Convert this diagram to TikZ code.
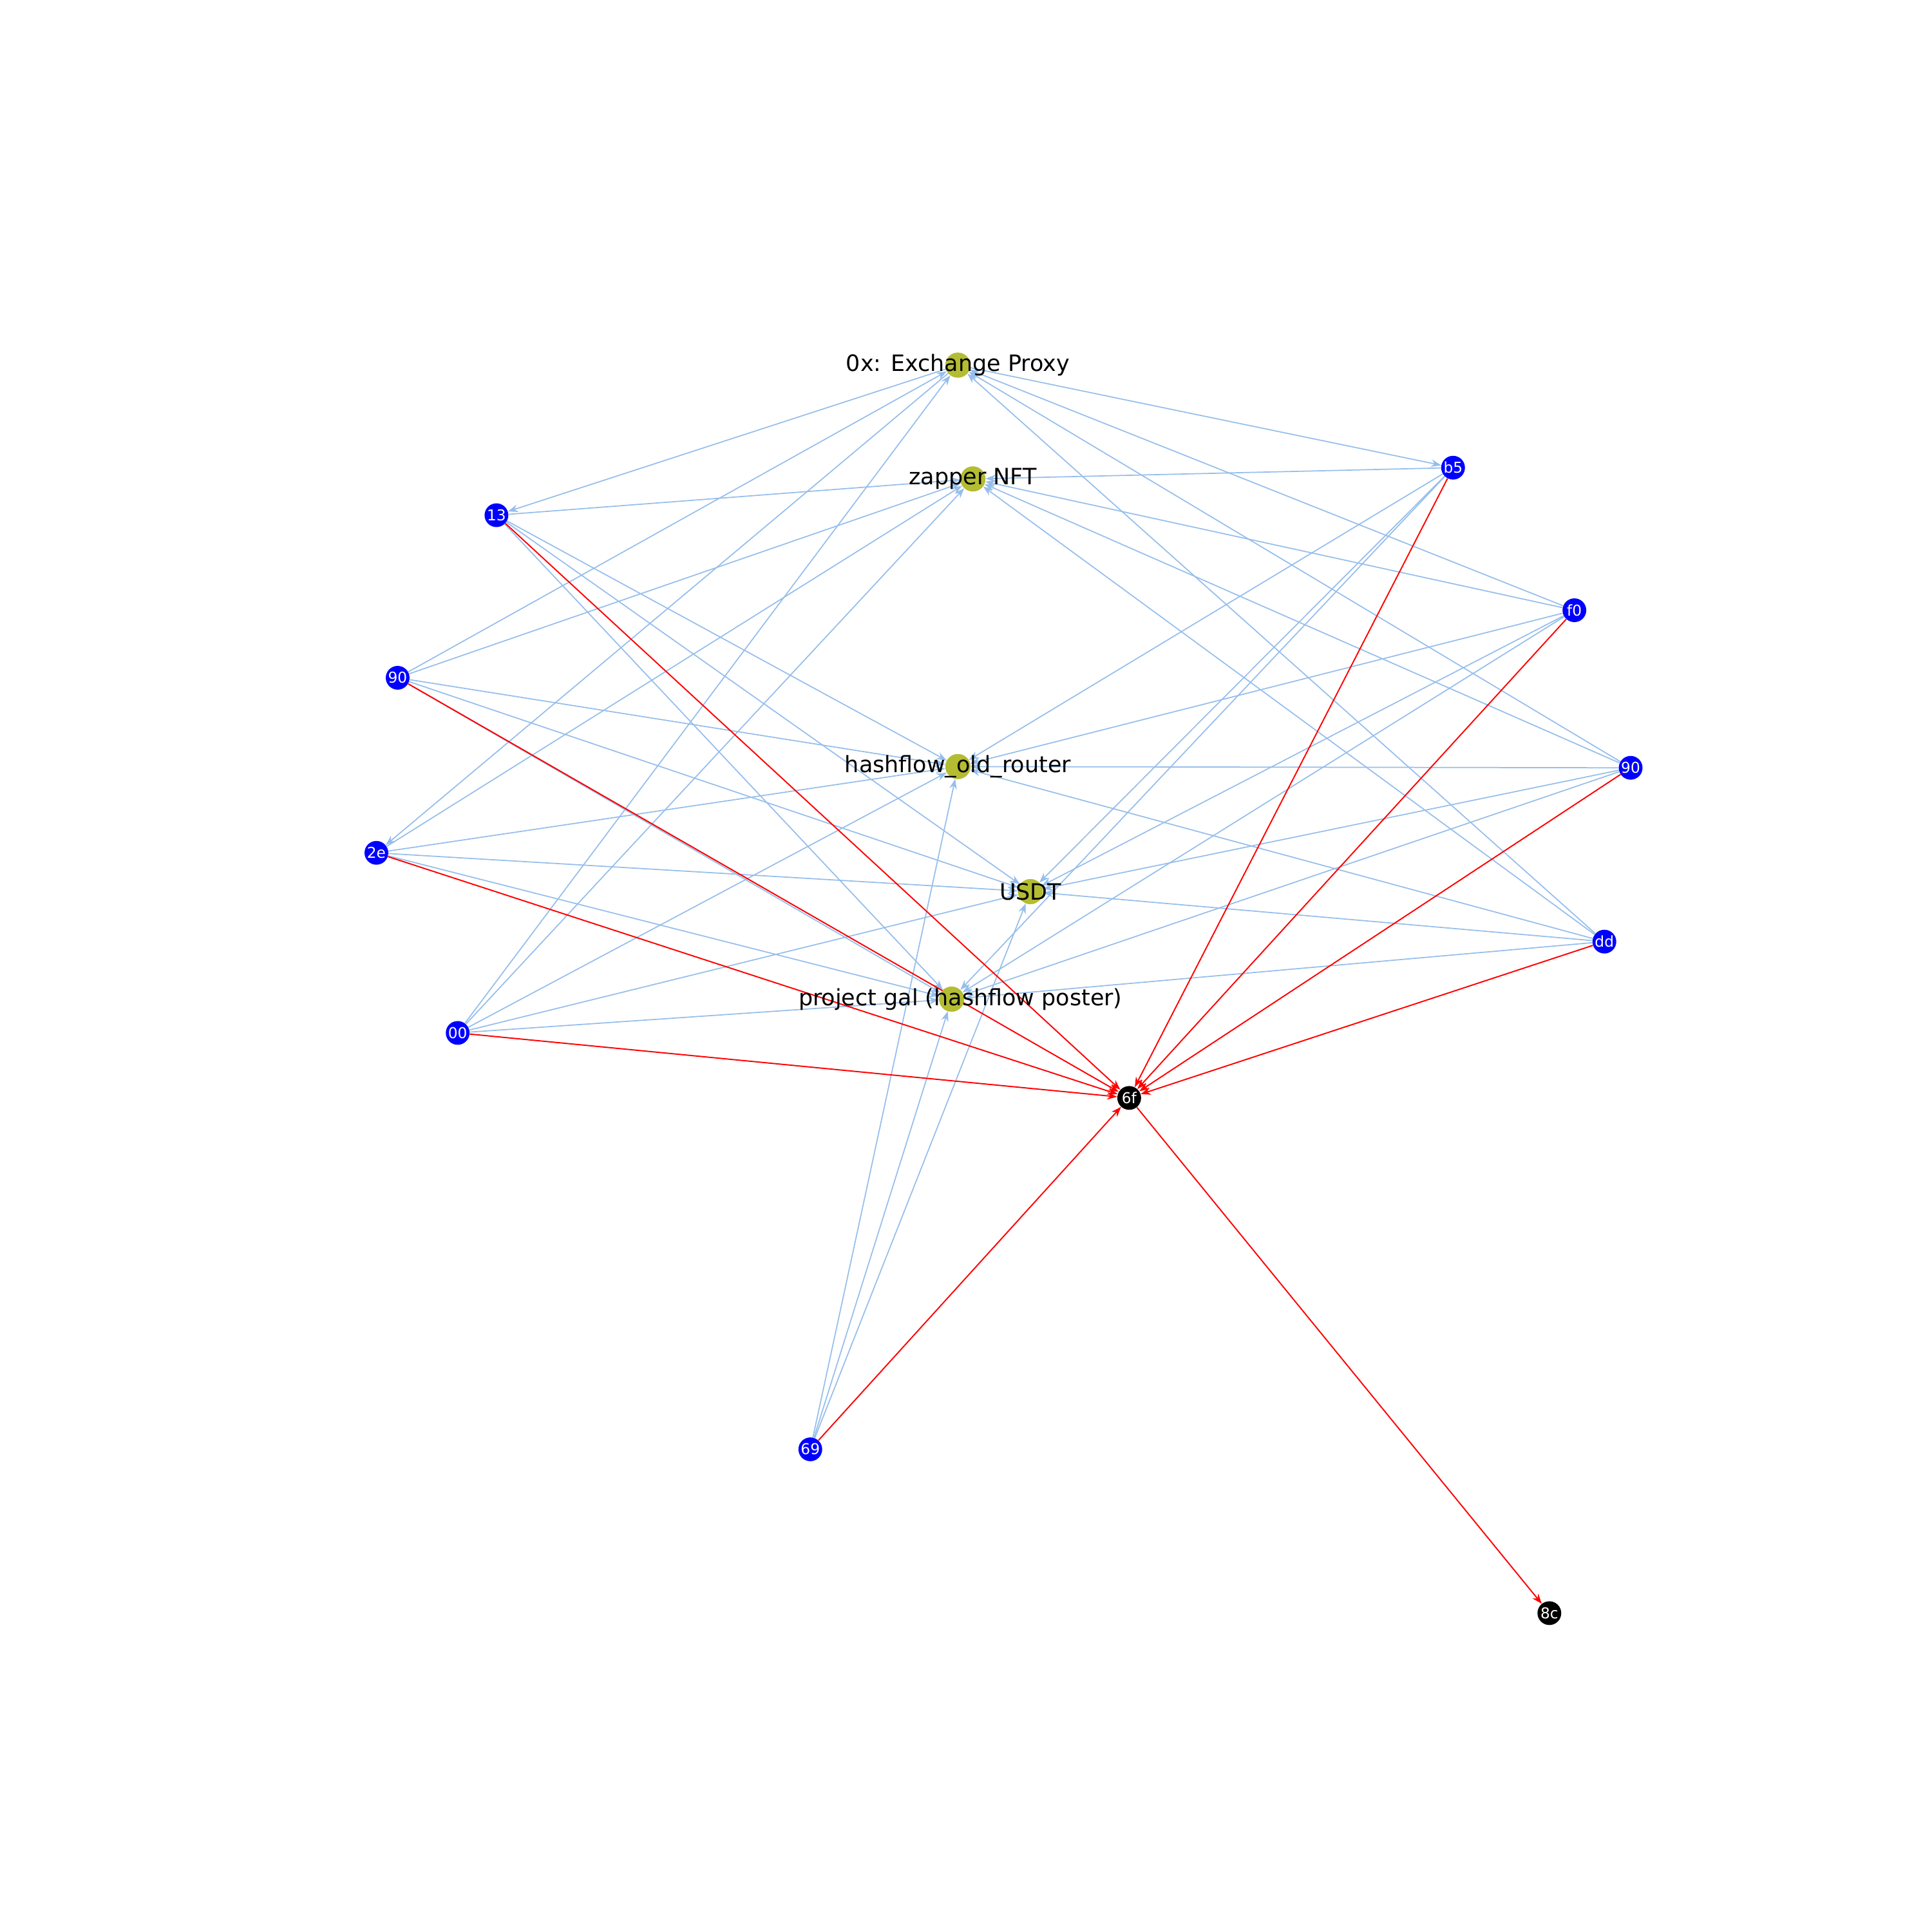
\documentclass[tikz,border=0pt]{standalone}
\usepackage{fontspec}
\setmainfont{DejaVu Sans}
\usetikzlibrary{arrows.meta}
\definecolor{oliv}{RGB}{180,188,50}
\definecolor{lblue}{RGB}{150,190,235}
\begin{document}
\begin{tikzpicture}[x=1pt,y=-1pt,
 bl/.style={circle,fill=blue,inner sep=0pt,minimum size=19pt,text=white,font=\fontsize{12}{12}\selectfont},
 bk/.style={circle,fill=black,inner sep=0pt,minimum size=19pt,text=white,font=\fontsize{12}{12}\selectfont},
 ol/.style={circle,fill=oliv,inner sep=0pt,minimum size=20pt},
 lab/.style={font=\fontsize{18}{18}\selectfont},
 be/.style={draw=lblue,line width=0.9pt,-{Stealth[length=8pt,width=6pt]}},
 re/.style={draw=red,line width=1pt,-{Stealth[length=8pt,width=6pt]}}]
\useasboundingbox (0,0) rectangle (1545,1545);
\node[ol] (ox) at (766,292) {};
\node[ol] (za) at (778,383) {};
\node[ol] (ha) at (766,613) {};
\node[ol] (us) at (824,713) {};
\node[ol] (pg) at (761,799) {};
\node[bl] (n13) at (397,412) {13};
\node[bl] (n90l) at (318,542) {90};
\node[bl] (n2e) at (301,682) {2e};
\node[bl] (n00) at (366,826) {00};
\node[bl] (n69) at (648,1159) {69};
\node[bl] (nb5) at (1162,374) {b5};
\node[bl] (nf0) at (1259,488) {f0};
\node[bl] (n90r) at (1304,614) {90};
\node[bl] (ndd) at (1283,753) {dd};
\node[bk] (n6f) at (903,878) {6f};
\node[bk] (n8c) at (1239,1290) {8c};
\draw[be] (ox) -- (n13);
\draw[be] (n90l) -- (ox);
\draw[be] (ox) -- (n2e);
\draw[be] (n00) -- (ox);
\draw[be] (ox) -- (nb5);
\draw[be] (nf0) -- (ox);
\draw[be] (n90r) -- (ox);
\draw[be] (ndd) -- (ox);
\draw[be] (n13) -- (za);
\draw[be] (nb5) -- (za);
\draw[be] (n90l) -- (za);
\draw[be] (n2e) -- (za);
\draw[be] (n00) -- (za);
\draw[be] (nf0) -- (za);
\draw[be] (n90r) -- (za);
\draw[be] (ndd) -- (za);
\foreach \s in {n13,n90l,n2e,n00,n69,nb5,nf0,n90r,ndd}{
 \draw[be] (\s) -- (ha);
 \draw[be] (\s) -- (us);
 \draw[be] (\s) -- (pg);
}
\foreach \s in {n13,n90l,n2e,n00,n69,nb5,nf0,n90r,ndd}{
 \draw[re] (\s) -- (n6f);
}
\draw[re] (n6f) -- (n8c);
\node[ol] at (ox) {};
\node[ol] at (za) {};
\node[ol] at (ha) {};
\node[ol] at (us) {};
\node[ol] at (pg) {};
\node[lab] (lox) at (766,292) {0x: Exchange Proxy};
\node[lab] (lza) at (778,383) {zapper NFT};
\node[lab] (lha) at (766,613) {hashflow\_old\_router};
\node[lab] (lus) at (824,713) {USDT};
\node[lab] (lpg) at (768,799) {project gal (hashflow poster)};
\end{tikzpicture}
\end{document}
